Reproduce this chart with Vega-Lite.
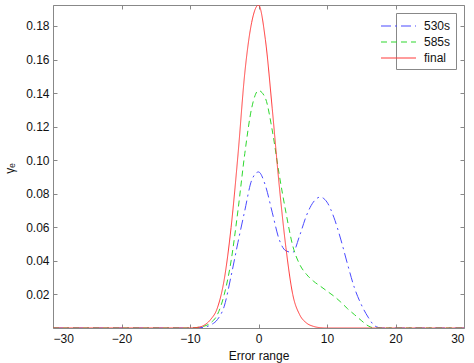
{
  "$schema": "https://vega.github.io/schema/vega-lite/v6.json",
  "width": 411,
  "height": 323,
  "autosize": "none",
  "padding": {"left": 53, "top": 5, "right": 10, "bottom": 35},
  "background": "white",
  "config": {
    "view": {"stroke": "#888", "strokeWidth": 1},
    "font": "Liberation Sans",
    "axis": {
      "domain": false,
      "grid": false,
      "tickColor": "#888",
      "tickSize": -4,
      "labelFontSize": 12,
      "labelColor": "#111",
      "titleFontSize": 12,
      "titleFontWeight": "normal",
      "titleColor": "#111"
    }
  },
  "datasets": {
    "curves": [
      {"x": -30, "y": 0, "s": "530s"}, {"x": -10, "y": 0, "s": "530s"}, {"x": -9, "y": 0.0001, "s": "530s"},
      {"x": -8, "y": 0.0004, "s": "530s"}, {"x": -7, "y": 0.0018, "s": "530s"}, {"x": -6, "y": 0.005, "s": "530s"},
      {"x": -5, "y": 0.013, "s": "530s"}, {"x": -4, "y": 0.031, "s": "530s"}, {"x": -3, "y": 0.051, "s": "530s"},
      {"x": -2, "y": 0.070, "s": "530s"}, {"x": -1, "y": 0.088, "s": "530s"}, {"x": 0, "y": 0.093, "s": "530s"},
      {"x": 1, "y": 0.085, "s": "530s"}, {"x": 2, "y": 0.069, "s": "530s"}, {"x": 3, "y": 0.053, "s": "530s"},
      {"x": 4, "y": 0.046, "s": "530s"}, {"x": 5, "y": 0.045, "s": "530s"}, {"x": 6, "y": 0.055, "s": "530s"},
      {"x": 7, "y": 0.067, "s": "530s"}, {"x": 8, "y": 0.075, "s": "530s"}, {"x": 9, "y": 0.078, "s": "530s"},
      {"x": 10, "y": 0.075, "s": "530s"}, {"x": 11, "y": 0.066, "s": "530s"}, {"x": 12, "y": 0.053, "s": "530s"},
      {"x": 13, "y": 0.038, "s": "530s"}, {"x": 14, "y": 0.024, "s": "530s"}, {"x": 15, "y": 0.014, "s": "530s"},
      {"x": 16, "y": 0.0065, "s": "530s"}, {"x": 17, "y": 0.0012, "s": "530s"}, {"x": 18, "y": 0, "s": "530s"},
      {"x": 30, "y": 0, "s": "530s"},
      {"x": -30, "y": 0, "s": "585s"}, {"x": -10, "y": 0, "s": "585s"}, {"x": -9, "y": 0.0003, "s": "585s"},
      {"x": -8, "y": 0.001, "s": "585s"}, {"x": -7, "y": 0.003, "s": "585s"}, {"x": -6, "y": 0.008, "s": "585s"},
      {"x": -5, "y": 0.020, "s": "585s"}, {"x": -4, "y": 0.040, "s": "585s"}, {"x": -3, "y": 0.070, "s": "585s"},
      {"x": -2, "y": 0.104, "s": "585s"}, {"x": -1, "y": 0.131, "s": "585s"}, {"x": 0, "y": 0.1415, "s": "585s"},
      {"x": 1, "y": 0.137, "s": "585s"}, {"x": 2, "y": 0.118, "s": "585s"}, {"x": 3, "y": 0.092, "s": "585s"},
      {"x": 4, "y": 0.069, "s": "585s"}, {"x": 5, "y": 0.049, "s": "585s"}, {"x": 6, "y": 0.038, "s": "585s"},
      {"x": 7, "y": 0.032, "s": "585s"}, {"x": 8, "y": 0.028, "s": "585s"}, {"x": 9, "y": 0.025, "s": "585s"},
      {"x": 10, "y": 0.022, "s": "585s"}, {"x": 11, "y": 0.019, "s": "585s"}, {"x": 12, "y": 0.0155, "s": "585s"},
      {"x": 13, "y": 0.0115, "s": "585s"}, {"x": 14, "y": 0.008, "s": "585s"}, {"x": 15, "y": 0.0045, "s": "585s"},
      {"x": 16, "y": 0.0013, "s": "585s"}, {"x": 17, "y": 0, "s": "585s"}, {"x": 30, "y": 0, "s": "585s"},
      {"x": -30, "y": 0, "s": "final"}, {"x": -10, "y": 0, "s": "final"}, {"x": -9, "y": 0.0003, "s": "final"},
      {"x": -8, "y": 0.0015, "s": "final"}, {"x": -7, "y": 0.005, "s": "final"}, {"x": -6, "y": 0.012, "s": "final"},
      {"x": -5, "y": 0.029, "s": "final"}, {"x": -4, "y": 0.060, "s": "final"}, {"x": -3, "y": 0.103, "s": "final"},
      {"x": -2, "y": 0.152, "s": "final"}, {"x": -1, "y": 0.182, "s": "final"}, {"x": 0, "y": 0.1925, "s": "final"},
      {"x": 1, "y": 0.172, "s": "final"}, {"x": 2, "y": 0.131, "s": "final"}, {"x": 3, "y": 0.086, "s": "final"},
      {"x": 4, "y": 0.048, "s": "final"}, {"x": 5, "y": 0.020, "s": "final"}, {"x": 6, "y": 0.008, "s": "final"},
      {"x": 7, "y": 0.003, "s": "final"}, {"x": 8, "y": 0.001, "s": "final"}, {"x": 9, "y": 0.0002, "s": "final"},
      {"x": 10, "y": 0, "s": "final"}, {"x": 30, "y": 0, "s": "final"}
    ]
  },
  "data": {"name": "curves"},
  "layer": [
    {
      "mark": {"type": "line", "interpolate": "monotone", "strokeWidth": 1, "clip": true},
      "encoding": {
        "x": {
          "field": "x", "type": "quantitative",
          "scale": {"domain": [-30, 30], "nice": false},
          "axis": {"orient": "bottom", "values": [-30, -20, -10, 0, 10, 20, 30], "labelPadding": 9, "title": "Error range", "titleBaseline": "alphabetic", "titleY": 31}
        },
        "y": {
          "field": "y", "type": "quantitative",
          "scale": {"domain": [0, 0.1925], "nice": false, "zero": true},
          "axis": {"orient": "left", "values": [0.02, 0.04, 0.06, 0.08, 0.1, 0.12, 0.14, 0.16, 0.18], "labelPadding": 8, "title": "γₑ", "titleX": -37, "titleY": 163, "titleAngle": -90}
        },
        "color": {
          "field": "s", "type": "nominal",
          "scale": {"domain": ["530s", "585s", "final"], "range": ["#4a4aff", "#2ed82e", "#ff3b3b"]},
          "legend": {
            "title": null, "orient": "none", "legendX": 343, "legendY": 8,
            "strokeColor": "#888", "fillColor": "white", "padding": 5,
            "symbolType": "M-4,0H1", "symbolSize": 196, "symbolStrokeWidth": 1,
            "symbolFillColor": "transparent",
            "labelFontSize": 12, "labelColor": "#111", "labelOffset": 7,
            "rowPadding": 2,
            "encode": {"symbols": {"update": {
              "stroke": [
                {"test": "datum.value === '530s'", "value": "#4a4aff"},
                {"test": "datum.value === '585s'", "value": "#2ed82e"},
                {"value": "#ff3b3b"}
              ],
              "fill": {"value": "transparent"},
              "strokeWidth": {"value": 1.2},
              "opacity": {"value": 1}
            }}}
          }
        },
        "strokeDash": {
          "field": "s", "type": "nominal",
          "scale": {"domain": ["530s", "585s", "final"], "range": [[10, 4, 2, 4], [6, 4], [1, 0]]},
          "legend": null
        }
      }
    },
    {
      "mark": {"type": "line", "opacity": 0},
      "encoding": {
        "x": {"field": "x", "type": "quantitative", "axis": {"orient": "top", "values": [-30, -20, -10, 0, 10, 20, 30], "labels": false, "title": null}},
        "y": {"field": "y", "type": "quantitative", "axis": {"orient": "right", "values": [0.02, 0.04, 0.06, 0.08, 0.1, 0.12, 0.14, 0.16, 0.18], "labels": false, "title": null}}
      }
    }
  ],
  "resolve": {"axis": {"x": "independent", "y": "independent"}}
}
